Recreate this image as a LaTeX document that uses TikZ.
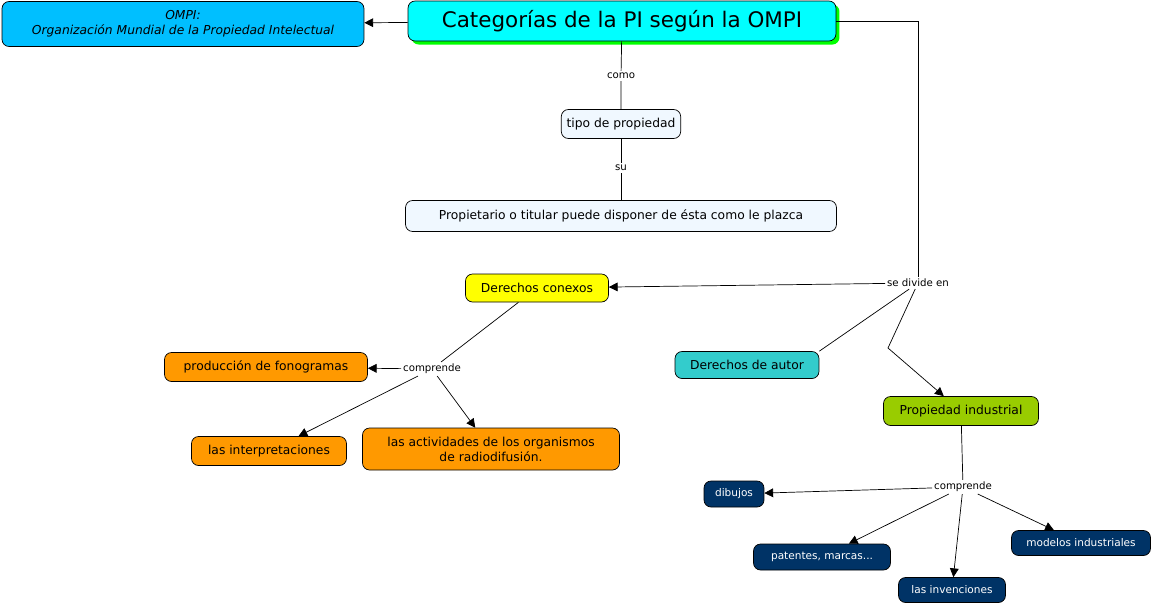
\documentclass[tikz,border=0pt]{standalone}
\usepackage{fontspec}
\setmainfont{DejaVu Sans}
\usetikzlibrary{arrows.meta,shadows}
\definecolor{cyanbox}{RGB}{0,255,255}
\definecolor{skybox}{RGB}{0,191,255}
\definecolor{paleblue}{RGB}{240,248,255}
\definecolor{yellowbox}{RGB}{255,255,0}
\definecolor{tealbox}{RGB}{51,204,204}
\definecolor{greenbox}{RGB}{153,204,0}
\definecolor{orangebox}{RGB}{255,153,0}
\definecolor{navybox}{RGB}{0,51,102}
\definecolor{shadowgreen}{RGB}{0,255,0}
\begin{document}
\begin{tikzpicture}
[x=0.02cm, y=-0.02cm,
 concept/.style={draw=black, rounded corners=4pt, align=center, font=\fontsize{7}{8.5}\selectfont, inner sep=3pt},
 link/.style={fill=white, inner sep=1pt, font=\fontsize{5.8}{7}\selectfont},
 navy/.style={concept, fill=navybox, text=white, font=\fontsize{6}{7}\selectfont},
 orange/.style={concept, fill=orangebox, minimum height=0.58cm},
 con/.style={draw=black},
 arr/.style={draw=black, -{Triangle[length=5pt,width=5pt]}}
 ]
\useasboundingbox (0,0) rectangle (1154,606);
% concepts
\node [concept, fill=cyanbox, font=\fontsize{12.2}{14}\selectfont, minimum width=8.56cm, minimum height=0.8cm,
  drop shadow={shadow xshift=2pt, shadow yshift=-2pt, fill=shadowgreen, opacity=1}] (titulo) at (622,21) {Categorías de la PI según la OMPI};
\node [concept, fill=skybox, font=\fontsize{7}{8.5}\selectfont\itshape, minimum width=7.24cm, minimum height=0.9cm] (ompi) at (183,24) {OMPI:\\Organización Mundial de la Propiedad Intelectual};
\node [concept, fill=paleblue, minimum height=0.58cm] (tipo) at (621,124) {tipo de propiedad};
\node [concept, fill=paleblue, minimum height=0.62cm, minimum width=8.62cm] (titular) at (621,216) {Propietario o titular puede disponer de ésta como le plazca};
\node [concept, fill=yellowbox, minimum height=0.56cm, minimum width=2.86cm] (conexos) at (537,288) {Derechos conexos};
\node [concept, fill=tealbox, minimum height=0.54cm, minimum width=2.88cm] (autor) at (747,365) {Derechos de autor};
\node [concept, fill=greenbox, minimum height=0.58cm, minimum width=3.1cm] (industrial) at (961,411) {Propiedad industrial};
\node [orange, minimum width=4.06cm] (fonogramas) at (266,367) {producción de fonogramas};
\node [orange, minimum width=3.1cm] (interpretaciones) at (269,451) {las interpretaciones};
\node [orange, minimum width=5.14cm, minimum height=0.84cm] (radiodifusion) at (491,449) {las actividades de los organismos\\de radiodifusión.};
\node [navy, minimum width=1.2cm, minimum height=0.52cm] (dibujos) at (734,494) {dibujos};
\node [navy, minimum width=2.74cm, minimum height=0.52cm] (patentes) at (822,557) {patentes, marcas...};
\node [navy, minimum width=2.14cm, minimum height=0.5cm] (invenciones) at (952,590) {las invenciones};
\node [navy, minimum width=2.78cm, minimum height=0.5cm] (modelos) at (1081,543) {modelos industriales};
% linking phrases
\node [link] (como) at (621,76) {como};
\node [link] (su) at (621,168) {su};
\node [link] (divide) at (918,283) {se divide en};
\node [link] (comprendeA) at (432,369) {comprende};
\node [link] (comprendeB) at (963,487) {comprende};
\coordinate (esquina) at (918,21);
\coordinate (quiebre) at (888,348);
% connectors
\draw [arr] (titulo) -- (ompi);
\draw [con] (titulo) -- (como) -- (tipo);
\draw [con] (tipo) -- (su) -- (titular);
\draw [con] (titulo.east) -- (esquina) -- (divide);
\draw [arr] (divide) -- (conexos);
\draw [con] (divide) -- (autor.north east);
\draw [arr] (divide) -- (quiebre) -- (industrial);
\draw [con] (conexos) -- (comprendeA);
\draw [arr] (comprendeA) -- (fonogramas);
\draw [arr] (comprendeA) -- (interpretaciones);
\draw [arr] (comprendeA) -- (radiodifusion);
\draw [con] (industrial) -- (comprendeB);
\draw [arr] (comprendeB) -- (dibujos);
\draw [arr] (comprendeB) -- (patentes);
\draw [arr] (comprendeB) -- (invenciones);
\draw [arr] (comprendeB) -- (modelos);
\end{tikzpicture}
\end{document}
